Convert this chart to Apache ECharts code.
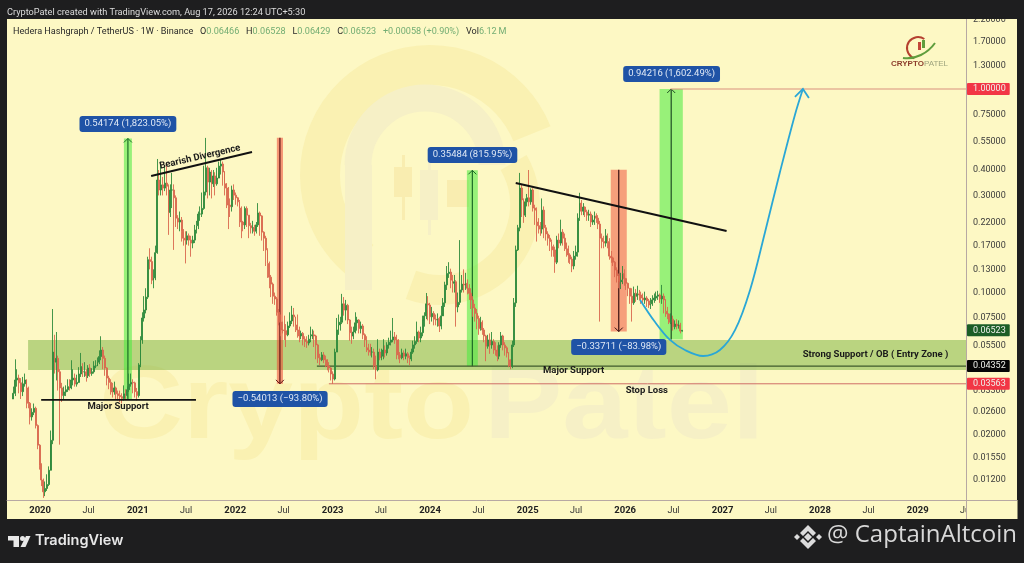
<!DOCTYPE html>
<html><head><meta charset="utf-8">
<style>html,body{margin:0;padding:0;background:#1e1e1f}#c{width:1024px;height:563px}</style>
<script src="https://cdn.jsdelivr.net/npm/echarts@6/dist/echarts.min.js"></script></head>
<body><div id="c"></div>
<script>
const firstWeek = '2019-09-23';
const firstOpen = 0.0300;
const closeValues = [
.0320,.0372,.0380,.0360,.0326,.0356,.0372,.0340,.0286,.0245,
.0258,.0270,.0222,.0178,.0142,.0120,.0105,.0109,.0114,.0134,
.0188,.0510,.0455,.0475,.0408,.0340,.0312,.0325,.0333,.0345,
.0340,.0372,.0380,.0355,.0362,.0398,.0433,.0408,.0408,.0390,
.0426,.0400,.0408,.0436,.0436,.0455,.0485,.0522,.0475,.0426,
.0380,.0362,.0340,.0325,.0340,.0318,.0312,.0308,.0302,.0318,
.0312,.0333,.0355,.0362,.0360,.0326,.0312,.0441,.0585,.0750,
.0821,.0950,.145,.142,.115,.118,.157,.357,.319,.338,
.326,.345,.333,.247,.319,.319,.292,.232,.222,.227,
.200,.185,.181,.190,.181,.175,.181,.203,.213,.243,
.243,.259,.312,.410,.349,.391,.342,.374,.342,.365,
.418,.428,.391,.342,.326,.269,.264,.319,.301,.292,
.279,.260,.222,.215,.259,.240,.213,.208,.208,.200,
.215,.246,.238,.198,.185,.162,.139,.119,.110,.0960,
.0930,.0800,.0715,.0665,.0655,.0650,.0620,.0685,.0725,.0776,
.0760,.0693,.0655,.0612,.0630,.0590,.0575,.0565,.0590,.0612,
.0620,.0612,.0553,.0478,.0467,.0494,.0478,.0467,.0436,.0426,
.0398,.0376,.0510,.0655,.0693,.0715,.0880,.0820,.0865,.0733,
.0635,.0612,.0640,.0710,.0733,.0665,.0685,.0620,.0585,.0535,
.0522,.0510,.0510,.0436,.0417,.0510,.0478,.0487,.0522,.0505,
.0553,.0570,.0585,.0605,.0598,.0585,.0494,.0478,.0505,.0487,
.0500,.0478,.0472,.0510,.0553,.0575,.0640,.0598,.0635,.0733,
.0768,.0880,.0869,.0760,.0790,.0740,.0733,.0745,.0685,.0768,
.0890,.109,.124,.126,.115,.111,.113,.0850,.0895,.103,
.110,.109,.111,.105,.0992,.0920,.0840,.0790,.0745,.0665,
.0715,.0655,.0612,.0545,.0585,.0553,.0575,.0540,.0522,.0487,
.0553,.0612,.0553,.0535,.0505,.0467,.0436,.0553,.0890,.162,
.208,.326,.285,.240,.279,.292,.279,.319,.260,.254,
.222,.213,.205,.254,.208,.194,.185,.178,.168,.162,
.141,.181,.175,.198,.185,.173,.164,.153,.146,.135,
.151,.158,.232,.275,.251,.263,.249,.240,.243,.222,
.227,.238,.232,.217,.185,.178,.175,.190,.178,.151,
.148,.141,.129,.121,.113,.115,.124,.117,.111,.105,
.0960,.0890,.0992,.0960,.0985,.0973,.0940,.0920,.0940,.0910,
.0869,.0880,.0920,.0940,.0960,.0973,.0930,.0960,.0920,.0810,
.0785,.0715,.0740,.0680,.0700,.0685,.0693,.06466,.06523];
const highValues = [
.0345,.0470,.0420,.0395,.0380,.0385,.0400,.0375,.0345,.0290,
.0270,.0285,.0275,.0225,.0180,.0145,.0122,.0118,.0128,.0140,
.0210,.0830,.0620,.0640,.0490,.0420,.0360,.0345,.0350,.0375,
.0375,.0465,.0420,.0400,.0395,.0430,.0505,.0450,.0455,.0420,
.0440,.0445,.0425,.0460,.0465,.0480,.0520,.0610,.0540,.0490,
.0430,.0390,.0375,.0360,.0365,.0345,.0330,.0330,.0320,.0350,
.0335,.0345,.0400,.0400,.0375,.0365,.0340,.0450,.0610,.0800,
.0960,.105,.150,.165,.150,.130,.170,.453,.400,.440,
.370,.420,.420,.340,.340,.387,.340,.300,.240,.250,
.235,.205,.200,.200,.195,.190,.190,.215,.225,.250,
.265,.310,.420,.575,.420,.410,.400,.400,.390,.410,
.440,.450,.440,.395,.345,.330,.290,.335,.340,.310,
.295,.285,.265,.225,.265,.265,.240,.220,.225,.215,
.222,.275,.250,.240,.200,.190,.165,.142,.122,.112,
.100,.0950,.0830,.0780,.0720,.0770,.0700,.0720,.0800,.0860,
.0840,.0760,.0780,.0680,.0650,.0640,.0610,.0610,.0620,.0680,
.0660,.0650,.0620,.0560,.0500,.0510,.0510,.0490,.0470,.0455,
.0430,.0410,.0530,.0750,.0780,.0760,.0985,.0950,.0920,.0880,
.0740,.0680,.0680,.0800,.0760,.0740,.0720,.0700,.0630,.0610,
.0560,.0560,.0540,.0530,.0490,.0590,.0530,.0530,.0590,.0550,
.0570,.0600,.0650,.0750,.0640,.0620,.0590,.0510,.0530,.0520,
.0530,.0510,.0490,.0530,.0580,.0610,.0720,.0650,.0680,.0770,
.0800,.0995,.0960,.0890,.0850,.0810,.0780,.0790,.0760,.0860,
.0940,.113,.135,.141,.131,.122,.122,.115,.100,.181,
.122,.130,.125,.116,.110,.105,.0960,.0880,.0830,.0770,
.0760,.0730,.0670,.0620,.0620,.0630,.0640,.0590,.0570,.0550,
.0570,.0640,.0620,.0570,.0545,.0510,.0470,.0580,.0940,.170,
.215,.387,.340,.290,.290,.305,.400,.325,.325,.270,
.262,.232,.222,.290,.265,.215,.200,.192,.182,.172,
.168,.190,.195,.228,.205,.195,.176,.170,.156,.150,
.160,.170,.245,.309,.285,.275,.265,.255,.255,.250,
.240,.250,.245,.240,.225,.195,.190,.205,.195,.185,
.160,.150,.143,.133,.124,.125,.135,.130,.118,.112,
.105,.105,.107,.104,.108,.103,.101,.0990,.101,.0960,
.0930,.0940,.0970,.0990,.101,.102,.0990,.109,.0990,.0930,
.0850,.0790,.0790,.0770,.0730,.0740,.0730,.0710,.06528];
const lowValues = [
.0300,.0310,.0345,.0320,.0300,.0310,.0345,.0270,.0270,.0225,
.0235,.0250,.0215,.0170,.0135,.0112,.0098,.0100,.0106,.0112,
.0180,.0180,.0400,.0370,.0330,.0179,.0290,.0300,.0310,.0325,
.0330,.0335,.0350,.0345,.0345,.0360,.0385,.0385,.0385,.0365,
.0380,.0385,.0390,.0400,.0425,.0435,.0445,.0465,.0420,.0390,
.0350,.0335,.0315,.0305,.0315,.0300,.0295,.0290,.0285,.0295,
.0300,.0305,.0325,.0345,.0320,.0305,.0295,.0305,.0430,.0560,
.0720,.0790,.0930,.130,.110,.105,.115,.155,.300,.300,
.300,.315,.300,.192,.235,.260,.162,.210,.205,.200,
.178,.170,.139,.172,.170,.150,.165,.175,.195,.205,
.225,.235,.255,.300,.290,.300,.290,.330,.300,.335,
.385,.380,.335,.300,.260,.205,.235,.250,.285,.270,
.265,.210,.185,.200,.205,.210,.185,.195,.195,.190,
.195,.210,.190,.180,.160,.135,.118,.105,.0950,.0880,
.0870,.0770,.0690,.0610,.0630,.0585,.0540,.0610,.0670,.0700,
.0680,.0640,.0600,.0570,.0590,.0550,.0540,.0535,.0550,.0570,
.0590,.0540,.0470,.0450,.0440,.0460,.0450,.0430,.0415,.0405,
.0370,.0356,.0370,.0510,.0620,.0650,.0700,.0770,.0730,.0700,
.0580,.0560,.0590,.0630,.0650,.0630,.0630,.0590,.0540,.0510,
.0490,.0490,.0480,.0420,.0375,.0410,.0465,.0465,.0470,.0480,
.0490,.0530,.0550,.0570,.0560,.0470,.0470,.0450,.0470,.0465,
.0470,.0450,.0440,.0460,.0500,.0530,.0560,.0570,.0570,.0610,
.0680,.0740,.0730,.0700,.0720,.0690,.0690,.0680,.0640,.0660,
.0790,.0850,.103,.118,.105,.100,.100,.0680,.0800,.0870,
.100,.100,.103,.0980,.0920,.0830,.0760,.0720,.0660,.0620,
.0650,.0620,.0570,.0460,.0530,.0500,.0530,.0500,.0490,.0460,
.0470,.0535,.0520,.0490,.0480,.0430,.0420,.0425,.0540,.0850,
.160,.200,.235,.220,.235,.265,.265,.270,.250,.215,
.178,.195,.190,.195,.185,.180,.170,.160,.150,.150,
.125,.138,.165,.170,.170,.160,.150,.140,.138,.126,
.130,.145,.150,.225,.240,.240,.235,.225,.225,.210,
.215,.215,.220,.205,.0720,.165,.165,.168,.165,.145,
.140,.135,.119,.112,.105,.104,.110,.108,.103,.0960,
.0880,.0720,.0870,.0900,.0920,.0915,.0880,.0880,.0880,.0850,
.0840,.0830,.0860,.0890,.0910,.0920,.0890,.0880,.0790,.0760,
.0740,.0700,.0700,.0650,.0660,.0660,.0665,.0630,.06429];

const priceTicks = [2.2,1.7,1.3,0.75,0.55,0.40,0.30,0.22,0.17,0.13,0.10,0.075,0.055,0.033,0.026,0.020,0.0155,0.012];
const tagPrices = [1.0,0.06523,0.04352,0.03563];
const tagFills = ['#f23645','#1c5e26','#050505','#f23645'];
const timeTicks = [2020,2021,2022,2023,2024,2025,2026,2027,2028,2029];

const measureBars = [
 {from:'2020-11-10',to:'2020-12-10',top:.5715,bottom:.0297,fill:'rgba(70,235,60,.55)',line:'#1d6b26',dir:1},
 {from:'2022-06-06',to:'2022-06-29',top:.5758,bottom:.0356,fill:'rgba(238,70,50,.55)',line:'#5c1414',dir:-1},
 {from:'2024-05-18',to:'2024-06-28',top:.3984,bottom:.0435,fill:'rgba(70,235,60,.55)',line:'#1d6b26',dir:1},
 {from:'2025-11-08',to:'2026-01-07',top:.4014,bottom:.0643,fill:'rgba(240,70,50,.5)',line:'#3a1010',dir:-1},
 {from:'2026-05-10',to:'2026-08-05',top:1.0,bottom:.0588,fill:'rgba(70,235,60,.55)',line:'#1f4d24',dir:1}
];
const trendLines = [
 {a:['2021-02-20',.374],b:['2022-03-05',.490],color:'#111',width:2},
 {a:['2020-01-05',.0297],b:['2021-08-07',.0297],color:'#111',width:1.6},
 {a:['2024-11-17',.345],b:['2027-01-16',.2005],color:'#111',width:2},
 {a:['2022-11-03',.04352],b:['2029-07-01',.04352],color:'#3f5a2c',width:1.4},
 {a:['2022-12-18',.03563],b:['2029-07-01',.03563],color:'#cf6f68',width:1},
 {a:['2026-06-20',1.0],b:['2029-07-01',1.0],color:'#d98f7f',width:1.2}
];
const zone = {from:'2019-11-17',to:'2029-07-01',top:.0585,bottom:.0417};
const priceBadges = [
 {t:'0.54174 (1,823.05%)',d:'2020-11-25',p:.673},
 {t:'\u22120.54013 (\u221293.80%)',d:'2022-06-18',p:.0300},
 {t:'0.35484 (815.95%)',d:'2024-06-08',p:.474},
 {t:'\u22120.33711 (\u221283.98%)',d:'2025-12-08',p:.0540},
 {t:'0.94216 (1,602.49%)',d:'2026-06-24',p:1.185}
];
const notes = [
 {t:'Bearish Divergence',d:'2021-08-22',p:.463,r:13},
 {t:'Major Support',d:'2020-10-19',p:.0275,r:0},
 {t:'Major Support',d:'2025-06-22',p:.0412,r:0},
 {t:'Stop Loss',d:'2026-03-23',p:.0329,r:0},
 {t:'Strong Support / OB ( Entry Zone )',d:'2028-07-27',p:.0494,r:0}
];
const forecastDates = ['2026-02-26','2026-04-23','2026-06-18','2026-08-13','2026-10-20','2026-12-22','2027-02-17','2027-04-14','2027-06-09','2027-08-04','2027-09-29','2027-10-29'];
const forecastPrices = [.092,.0716,.0585,.0522,.0488,.0522,.0655,.103,.198,.391,.746,1.0];

const ms = s => Date.parse(s+'T00:00:00Z');
const week0 = ms(firstWeek);
const candleRows = closeValues.map((c,i)=>[week0+i*7*864e5, i?closeValues[i-1]:firstOpen, c, lowValues[i], highValues[i]]);
const tickStamps = [];
timeTicks.forEach(y=>{tickStamps.push(Date.UTC(y,0,1));tickStamps.push(Date.UTC(y,6,1));});
const axisFont = 'Roboto';
const axisEnd = ms('2029-07-01');

const chart = echarts.init(document.getElementById('c'),null,{renderer:'canvas'});
const G = (type,o)=>Object.assign({type,silent:true},o);
const bg = '#1e1e1f', paper = '#fdf8c4', axisC='#b7a8a3';
const gold='#faf1b2', pale='#f6f0c6', candleMark='#f9edb0';
const rad = d=>d*Math.PI/180;
const graphics = [
 G('rect',{z:-30,shape:{x:7,y:19,width:1010,height:500},style:{fill:paper}}),
 G('arc',{z:-20,shape:{cx:430,cy:175,r:110,startAngle:rad(-22),endAngle:rad(129),clockwise:false},style:{fill:null,stroke:gold,lineWidth:40}}),
 G('arc',{z:-20,shape:{cx:425,cy:165,r:67,startAngle:rad(0),endAngle:rad(180),clockwise:false},style:{fill:null,stroke:pale,lineWidth:27}}),
 G('rect',{z:-20,shape:{x:345,y:165,width:27,height:125},style:{fill:pale}}),
 G('arc',{z:-20,shape:{cx:440,cy:205,r:85,startAngle:rad(-30),endAngle:rad(110)},style:{fill:null,stroke:gold,lineWidth:30}}),
 G('rect',{z:-19,shape:{x:394,y:167,width:18,height:30},style:{fill:candleMark}}),
 G('rect',{z:-19,shape:{x:402,y:155,width:3,height:65},style:{fill:candleMark}}),
 G('rect',{z:-19,shape:{x:420,y:170,width:18,height:50},style:{fill:pale}}),
 G('rect',{z:-19,shape:{x:428,y:160,width:3,height:75},style:{fill:pale}}),
 G('rect',{z:-19,shape:{x:447,y:180,width:22,height:27},style:{fill:candleMark}}),
 G('text',{z:-20,x:99,y:410,scaleX:1.13,style:{text:'Crypto',font:'bold 103px "Liberation Sans"',fill:gold,verticalAlign:'middle'}}),
 G('text',{z:-20,x:484,y:410,scaleX:1.14,style:{text:'Patel',font:'bold 103px "Liberation Sans"',fill:pale,verticalAlign:'middle'}}),
 // small logo
 G('arc',{z:-10,shape:{cx:918,cy:48,r:11,startAngle:rad(-55),endAngle:rad(110),clockwise:false},style:{fill:null,stroke:'#b5402f',lineWidth:2}}),
 G('bezierCurve',{z:-10,shape:{x1:903,y1:58,x2:935,y2:43,cpx1:915,cpy1:60,cpx2:928,cpy2:53},style:{fill:null,stroke:'#5f9d3d',lineWidth:2}}),
 G('rect',{z:-10,shape:{x:918,y:42,width:3,height:8},style:{fill:'#c2473a'}}),
 G('rect',{z:-10,shape:{x:922,y:40,width:3,height:8},style:{fill:'#5f9d3d'}}),
 G('text',{z:-10,x:891,y:60,style:{rich:{a:{fill:'#8c3d2c',font:'bold 8px "Liberation Sans"'},b:{fill:'#9ea47e',font:'8px "Liberation Sans"'}},text:'{a|CRYPTO}{b|PATEL}'}}),
 // header
 G('text',{z:60,x:13,y:27,style:{font:'9.1px Roboto',fill:'#333',
   text:'{k|Hedera Hashgraph / TetherUS \u00b7 1W \u00b7 Binance}   {k|O}{v|0.06466}   {k|H}{v|0.06528}   {k|L}{v|0.06429}   {k|C}{v|0.06523}   {v|+0.00058 (+0.90%)}   {k|Vol}{v|6.12\u2009M}',
   rich:{k:{font:'9.1px Roboto',fill:'#2a2a2a'},v:{font:'9.1px Roboto',fill:'#73ad73'}}}}),
 // masks + frame
 G('rect',{z:90,shape:{x:0,y:0,width:1024,height:19},style:{fill:bg}}),
 G('rect',{z:90,shape:{x:966.5,y:500,width:51,height:19},style:{fill:paper}}),
 G('rect',{z:91,shape:{x:966,y:500,width:1,height:19},style:{fill:axisC}}),
 G('rect',{z:91,shape:{x:967,y:500,width:50,height:1},style:{fill:axisC}}),
 G('text',{z:92,x:7,y:8.5,style:{text:'CryptoPatel created with TradingView.com, Aug 17, 2026 12:24 UTC+5:30',font:'9.2px Roboto',fill:'#dcdcdc'}}),
 // footer logos
 G('rect',{z:92,shape:{x:8,y:536,width:11,height:4.5},style:{fill:'#e8e8e8'}}),
 G('rect',{z:92,shape:{x:13.5,y:536,width:5.5,height:11},style:{fill:'#e8e8e8'}}),
 G('circle',{z:92,shape:{cx:22.5,cy:538.5,r:2.5},style:{fill:'#e8e8e8'}}),
 G('polygon',{z:92,shape:{points:[[26,536],[30.5,536],[25.5,547],[20.5,547]]},style:{fill:'#e8e8e8'}}),
 G('text',{z:92,x:35,y:533,style:{text:'TradingView',font:'600 14.5px Inter',fill:'#e8e8e8'}}),
 G('polygon',{z:92,shape:{points:[[808,525],[816,533],[813,536],[808,531],[803,536],[800,533]]},style:{fill:'#dcdcdc'}}),
 G('polygon',{z:92,shape:{points:[[808,549],[816,541],[813,538],[808,543],[803,538],[800,541]]},style:{fill:'#dcdcdc'}}),
 G('polygon',{z:92,shape:{points:[[808,533],[812,537],[808,541],[804,537]]},style:{fill:'#dcdcdc'}}),
 G('polygon',{z:92,shape:{points:[[797,534],[800,537],[797,540],[794,537]]},style:{fill:'#dcdcdc'}}),
 G('polygon',{z:92,shape:{points:[[819,534],[822,537],[819,540],[816,537]]},style:{fill:'#dcdcdc'}}),
 G('text',{z:92,x:827,y:523,style:{text:'@ CaptainAltcoin',font:'24px "Open Sans"',fill:'#d8d8d8'}})
];

function barItem(params,api){
  const b = measureBars[params.dataIndex];
  const p1 = api.coord([ms(b.from),b.top]), p2 = api.coord([ms(b.to),b.bottom]);
  const cx = (p1[0]+p2[0])/2, tipY = b.dir>0?p1[1]:p2[1], s=b.dir>0?1:-1;
  return {type:'group',children:[
   {type:'rect',shape:{x:p1[0],y:p1[1],width:p2[0]-p1[0],height:p2[1]-p1[1]},style:{fill:b.fill}},
   {type:'line',shape:{x1:cx,y1:p1[1],x2:cx,y2:p2[1]},style:{stroke:b.line,lineWidth:1.2}},
   {type:'polyline',shape:{points:[[cx-4,tipY+s*4],[cx,tipY],[cx+4,tipY+s*4]]},style:{fill:null,stroke:b.line,lineWidth:1}}
  ]};
}
function trendItem(params,api){
  const t = trendLines[params.dataIndex];
  const a = api.coord([ms(t.a[0]),t.a[1]]), b = api.coord([ms(t.b[0]),t.b[1]]);
  return {type:'line',shape:{x1:a[0],y1:a[1],x2:b[0],y2:b[1]},style:{stroke:t.color,lineWidth:t.width}};
}
function zoneItem(params,api){
  const a = api.coord([ms(zone.from),zone.top]), b = api.coord([ms(zone.to),zone.bottom]);
  return {type:'rect',shape:{x:a[0],y:a[1],width:b[0]-a[0],height:b[1]-a[1]},style:{fill:'rgba(120,175,60,.5)'}};
}
function badgeItem(params,api){
  const n = priceBadges[params.dataIndex];
  const c = api.coord([ms(n.d),n.p]);
  return {type:'text',x:c[0],y:c[1],style:{text:n.t,align:'center',verticalAlign:'middle',font:'9.5px Roboto',fill:'#dfe8f5',backgroundColor:'#1f53a6',padding:[3,5,3,5],borderRadius:3}};
}
function noteItem(params,api){
  const n = notes[params.dataIndex];
  const c = api.coord([ms(n.d),n.p]);
  return {type:'text',x:c[0],y:c[1],rotation:rad(n.r),style:{text:n.t,align:'center',verticalAlign:'middle',font:'bold 9.5px Roboto',fill:'#1a1a1a'}};
}
function headItem(params,api){
  const e = api.coord([ms('2027-10-29'),1.0]);
  return {type:'polyline',shape:{points:[[e[0]-8,e[1]+8],[e[0],e[1]],[e[0]+6,e[1]+9]]},style:{fill:null,stroke:'#2aa7d6',lineWidth:1.8}};
}
function tagItem(params,api){
  const v = tagPrices[params.dataIndex];
  const c = api.coord([axisEnd,v]);
  return {type:'text',x:c[0]+1,y:c[1],style:{text:v.toFixed(5),align:'left',verticalAlign:'middle',font:'9px Roboto',fill:'#eef0ea',backgroundColor:tagFills[params.dataIndex],padding:[1.5,4,1.5,6],borderRadius:1}};
}
const ds = arr => arr.map((_,i)=>[i]);
const custom = (arr,renderItem,z) => ({type:'custom',data:ds(arr),renderItem,z,silent:true,clip:false,encode:{x:-1,y:-1}});

chart.setOption({
 animation:false,useUTC:true,backgroundColor:bg,
 grid:{left:7,right:58,top:19,height:481},
 xAxis:{type:'value',min:ms('2019-08-30'),max:axisEnd,
  splitLine:{show:false},axisTick:{show:false},
  axisLine:{show:true,lineStyle:{color:axisC,width:1}},
  axisLabel:{customValues:tickStamps,hideOverlap:false,showMinLabel:true,showMaxLabel:true,margin:6,
   formatter:v=>{const d=new Date(v);return d.getUTCMonth()===0?'{y|'+d.getUTCFullYear()+'}':'{m|Jul}';},
   rich:{y:{fontWeight:'bold',fontSize:9.5,color:'#222',fontFamily:axisFont},m:{fontSize:9,color:'#333',fontFamily:axisFont}}}},
 yAxis:{type:'log',logBase:10,position:'right',min:0.00957,max:2.207,
  splitLine:{show:false},axisTick:{show:false},
  axisLine:{show:true,lineStyle:{color:axisC,width:1}},
  axisLabel:{customValues:priceTicks,hideOverlap:false,showMinLabel:true,showMaxLabel:true,margin:7,color:'#3c3c3c',fontSize:9,fontFamily:axisFont,
   formatter:v=>Number(v).toFixed(5)}},
 graphic:{elements:graphics},
 series:[
  custom([0],zoneItem,1),
  custom(measureBars,barItem,2),
  custom(trendLines.slice(3),(p,a)=>trendItem({dataIndex:p.dataIndex+3},a),2),
  {type:'candlestick',data:candleRows,encode:{x:0,y:[1,2,3,4]},barWidth:1.4,z:3,silent:true,clip:true,
   itemStyle:{color:'#2f8a3c',color0:'#d9684e',borderColor:'#2f8a3c',borderColor0:'#d9684e',borderWidth:0.9}},
  custom(trendLines.slice(0,3),trendItem,4),
  {type:'line',data:forecastDates.map((d,i)=>[ms(d),forecastPrices[i]]),smooth:0.35,showSymbol:false,symbol:'none',z:4,silent:true,lineStyle:{color:'#2aa7d6',width:1.8}},
  custom([0],headItem,4),
  custom(notes,noteItem,5),
  custom(priceBadges,badgeItem,6),
  custom(tagPrices,tagItem,7)
 ]
});
</script></body></html>
